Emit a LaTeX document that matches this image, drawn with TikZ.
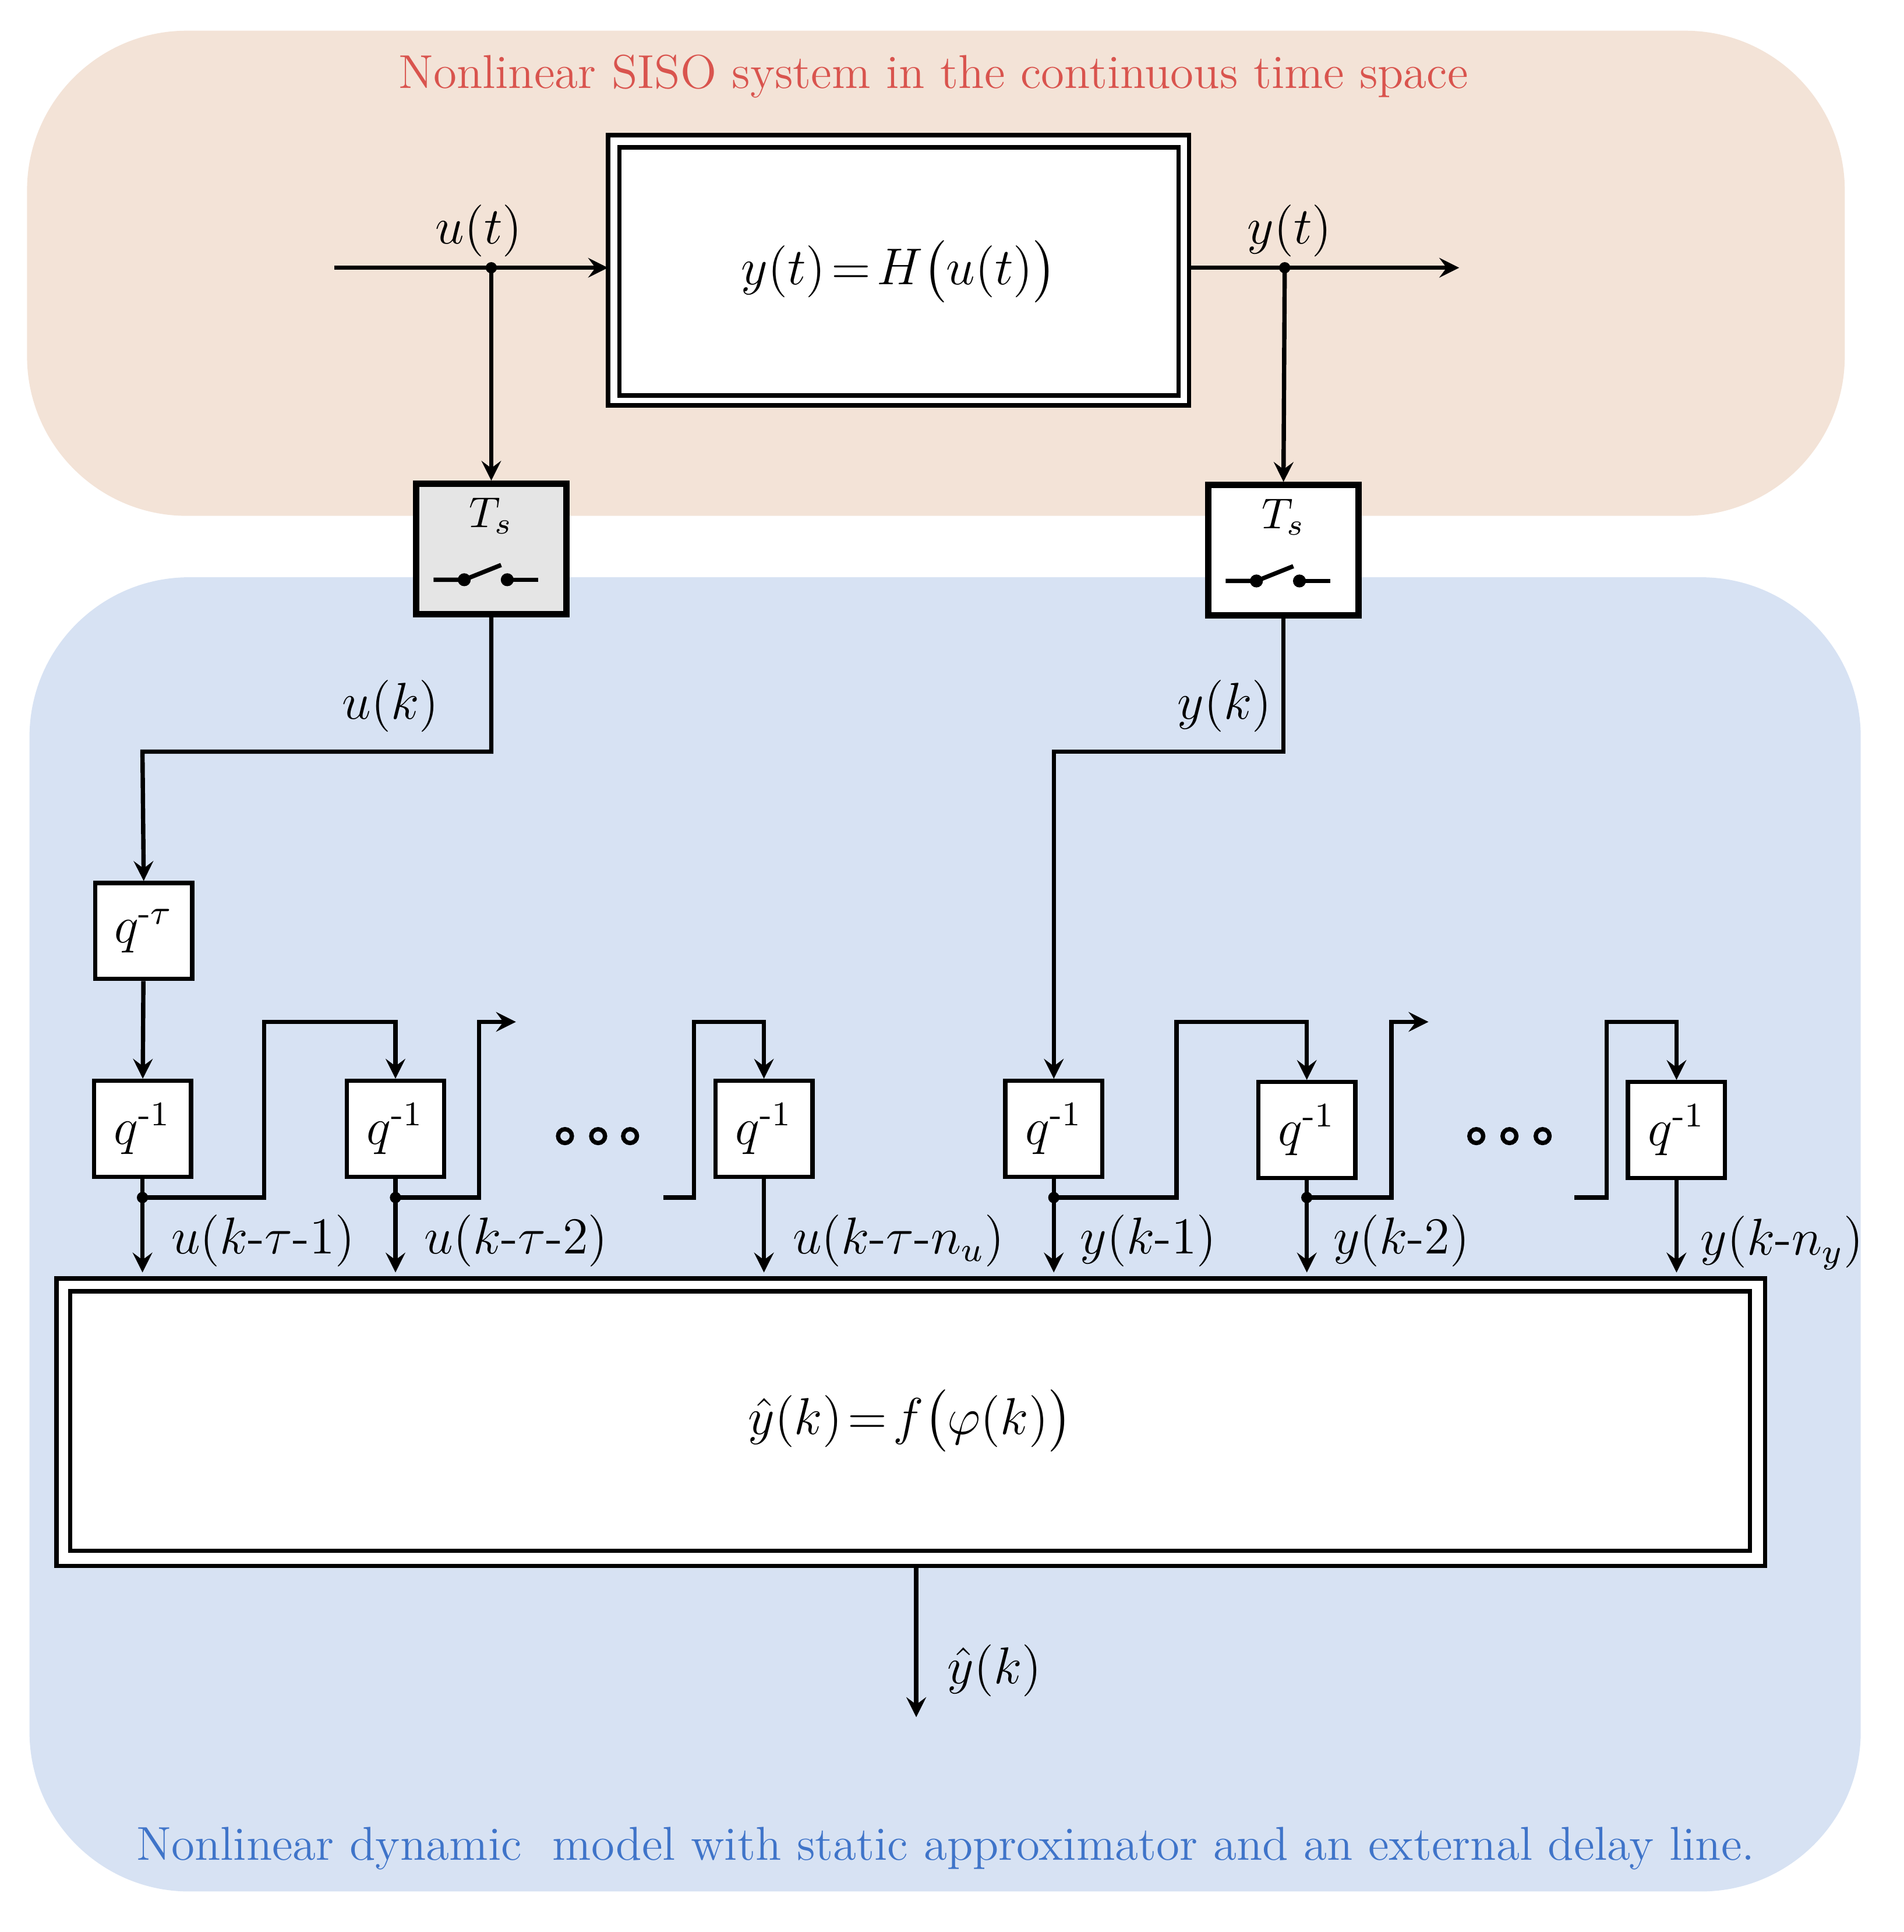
\documentclass[tikz,border=0pt]{standalone}
\usepackage{amsmath}
\definecolor{topbg}{HTML}{F3E3D7}
\definecolor{botbg}{HTML}{D7E2F3}
\definecolor{toptxt}{HTML}{D9544E}
\definecolor{bottxt}{HTML}{3F74C9}
\begin{document}
\begin{tikzpicture}[>=stealth,x=0.01cm,y=-0.01cm,line width=1pt,
  delay/.style={shape=rectangle,draw,fill=white,minimum width=0.79cm,minimum height=0.78cm,font=\large},
  sampler/.style={shape=rectangle,draw,line width=1.5pt,minimum width=1.22cm,minimum height=1.06cm},
  lbl/.style={font=\large},
  title/.style={font=\fontsize{11}{13}\selectfont}]
\useasboundingbox (0,0) rectangle (1550,1573);
% backgrounds
\fill[topbg,rounded corners=1.3cm] (22,25) rectangle (1502,420);
\fill[botbg,rounded corners=1.3cm] (24,470) rectangle (1515,1540);
\node (toptitle) at (760,62) [title,text=toptxt] {Nonlinear SISO system in the continuous time space};
\node (bottitle) at (770,1505) [title,text=bottxt] {Nonlinear dynamic\ \ model with static approximator and an external delay line.};
% plant
\draw[fill=white] (495,110) rectangle (968,330);
\node (plant) at (732,221) [shape=rectangle,draw,fill=white,minimum width=4.55cm,minimum height=2.02cm,font=\large] {$y(t)\!=\!H\bigl(u(t)\bigr)$};
\coordinate (uin) at (272,218);
\coordinate (uj) at (400,218);
\coordinate (yj) at (1046,218);
\coordinate (yout) at (1188,218);
\draw[->] (uin) -- (495,218);
\draw[->] (968,218) -- (yout);
\node (ut) at (390,188) [lbl] {$u(t)$};
\node (yt) at (1050,188) [lbl] {$y(t)$};
% samplers
\node (tsu) at (400,447) [sampler,fill=black!10] {};
\node (tsy) at (1045,448) [sampler,fill=white] {};
\foreach \s in {tsu,tsy} {
  \node at ([yshift=0.27cm]\s.center) {$T_s$};
  \draw ([xshift=-0.47cm,yshift=-0.25cm]\s.center) -- ([xshift=-0.22cm,yshift=-0.25cm]\s.center)
    -- ([xshift=0.08cm,yshift=-0.13cm]\s.center);
  \draw ([xshift=0.13cm,yshift=-0.25cm]\s.center) -- ([xshift=0.38cm,yshift=-0.25cm]\s.center);
  \fill ([xshift=-0.22cm,yshift=-0.25cm]\s.center) circle (1.5pt);
  \fill ([xshift=0.13cm,yshift=-0.25cm]\s.center) circle (1.5pt);
}
\draw[->] (uj) -- (tsu.north);
\draw[->] (yj) -- (tsy.north);
\fill (uj) circle (1.3pt);
\fill (yj) circle (1.3pt);
% delay line
\node (qtau) at (117,758) [delay] {$q^{\text{-}\tau}$};
\node (qu1) at (116,919) [delay] {$q^{\text{-}1}$};
\node (qu2) at (322,919) [delay] {$q^{\text{-}1}$};
\node (qu3) at (622,919) [delay] {$q^{\text{-}1}$};
\node (qy1) at (858,919) [delay] {$q^{\text{-}1}$};
\node (qy2) at (1064,920) [delay] {$q^{\text{-}1}$};
\node (qy3) at (1365,920) [delay] {$q^{\text{-}1}$};
\draw[->] (tsu.south) |- (116,612) -- (qtau.north);
\draw[->] (tsy.south) |- (858,612) -- (qy1.north);
\node (uk) at (318,575) [lbl] {$u(k)$};
\node (yk) at (997,575) [lbl] {$y(k)$};
\draw[->] (qtau) -- (qu1);
% approximator
\draw[fill=white] (46,1041) rectangle (1437,1275);
\node (approx) at (741,1157) [shape=rectangle,draw,fill=white,minimum width=13.67cm,minimum height=2.11cm,font=\large] {$\hat{y}(k)\!=\!f\bigl(\varphi(k)\bigr)$};
% taps
\foreach \q in {qu1,qu2,qy1,qy2} {
  \coordinate (\q j) at (\q.south|-0,975);
  \fill (\q j) circle (1.3pt);
}
\foreach \q in {qu1,qu2,qu3,qy1,qy2,qy3}
  \draw[->] (\q.south) -- (\q.south|-0,1036);
\draw[->] (qu1j) -| (215,832) -| (qu2.north);
\draw[->] (qu2j) -| (390,832) -- (420,832);
\draw[->] (540,975) -| (565,832) -| (qu3.north);
\draw[->] (qy1j) -| (958,832) -| (qy2.north);
\draw[->] (qy2j) -| (1133,832) -- (1163,832);
\draw[->] (1282,975) -| (1308,832) -| (qy3.north);
\foreach \x in {460,487,513,1202,1229,1256}
  \draw (\x,925) circle (1.6pt);
\node (lu1) at (126,1010) [lbl,anchor=west] {$u(k\text{-}\tau\text{-}1)$};
\node (lu2) at (332,1010) [lbl,anchor=west] {$u(k\text{-}\tau\text{-}2)$};
\node (lu3) at (632,1010) [lbl,anchor=west] {$u(k\text{-}\tau\text{-}n_u)$};
\node (ly1) at (866,1010) [lbl,anchor=west] {$y(k\text{-}1)$};
\node (ly2) at (1072,1010) [lbl,anchor=west] {$y(k\text{-}2)$};
\node (ly3) at (1371,1012) [lbl,anchor=west] {$y(k\text{-}n_y)$};
% output
\coordinate (yhat) at (746,1398);
\draw[->] (746,1275) -- (yhat);
\node (lyhat) at (758,1360) [lbl,anchor=west] {$\hat{y}(k)$};
\end{tikzpicture}
\end{document}
